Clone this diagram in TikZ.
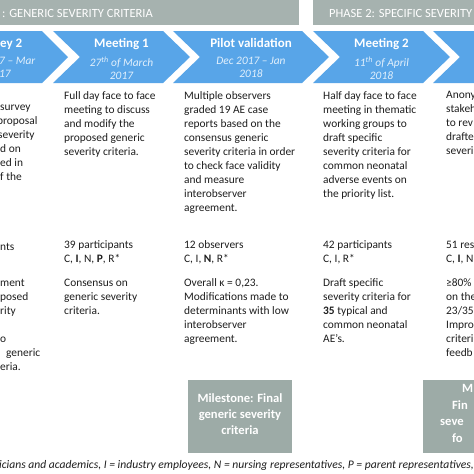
\documentclass[tikz,border=0pt]{standalone}
\usepackage{fontspec}
\setmainfont{Carlito}
\usetikzlibrary{positioning}
\usepackage{xcolor}
\definecolor{chevblue}{RGB}{88,165,232}
\definecolor{phasegray}{RGB}{166,178,175}
\definecolor{milegray}{RGB}{157,171,167}
\definecolor{bodyink}{RGB}{30,30,30}
\definecolor{dateink}{RGB}{226,240,252}

\begin{document}
\begin{tikzpicture}[x=1pt,y=-1pt,
	chev/.style={fill=chevblue},
	phase/.style={fill=phasegray},
	milebox/.style={fill=milegray},
	phasetext/.style={anchor=base west,inner sep=0,text=white,font=\fontsize{12.5}{15}\selectfont},
	title/.style={anchor=base,inner sep=0,text=white,font=\bfseries\fontsize{13}{15}\selectfont},
	datum/.style={anchor=north,yshift=8.82pt,inner sep=0,align=center,text=dateink,font=\itshape\fontsize{11.4}{12.6}\selectfont,execute at begin node=\strut},
	body/.style={anchor=north west,yshift=9.8pt,inner sep=0,align=left,text=bodyink,font=\fontsize{11.4}{14}\selectfont,execute at begin node=\strut},
	miletext/.style={anchor=north,yshift=11.48pt,inner sep=0,align=center,text=white,font=\bfseries\fontsize{12.6}{16.4}\selectfont,execute at begin node=\strut}]
	\useasboundingbox (0,0) rectangle (474,474);
	\fill[white] (0,0) rectangle (474,474);
	\clip (0,0) rectangle (474,474);

	% phase banners
	\fill[phase] (-10,-2) rectangle (299,25);
	\fill[phase] (313,-2) rectangle (490,25);
	\node[phasetext] (phaseA) at (2,17.5) {: GENERIC SEVERITY CRITERIA};
	\node[phasetext] (phaseB) at (329,17.5) {PHASE 2: SPECIFIC SEVERITY};

	% chevrons
	\fill[chev] (-100,31) -- (42,31) -- (68,57) -- (42,83) -- (-100,83) -- cycle;
	\fill[chev] (53,31) -- (163,31) -- (190,57) -- (163,83) -- (53,83) -- (80,57) -- cycle;
	\fill[chev] (173,31) -- (302,31) -- (329,57) -- (302,83) -- (173,83) -- (200,57) -- cycle;
	\fill[chev] (313,31) -- (423,31) -- (450,57) -- (423,83) -- (313,83) -- (340,57) -- cycle;
	\fill[chev] (433,31) -- (560,31) -- (587,57) -- (560,83) -- (433,83) -- (460,57) -- cycle;

	% chevron titles and dates
	\node[title,anchor=base west] (titleA) at (0,47) {ey 2};
	\node[datum,anchor=north west,align=left] (dateA) at (-1,66) {7 -- Mar\\17};
	\node[title] (titleB) at (121.5,47) {Meeting 1};
	\node[datum] (dateB) at (121.5,66) {27\textsuperscript{th} of March\\2017};
	\node[title] (titleC) at (251,47) {Pilot validation};
	\node[datum] (dateC) at (251,66) {Dec 2017 -- Jan\\2018};
	\node[title] (titleD) at (381.5,47) {Meeting 2};
	\node[datum] (dateD) at (381.5,66) {11\textsuperscript{th} of April\\2018};

	% what was done
	\node[body] (doA) at (0,115) {survey\\\hspace{-3pt}proposal\\\hspace{-2pt}severity\\d on\\ed in\\f the};
	\node[body] (doB) at (64,101) {Full day face to face\\meeting to discuss\\and modify the\\proposed generic\\severity criteria.};
	\node[body] (doC) at (184,101) {Multiple observers\\graded 19 AE case\\reports based on the\\consensus generic\\severity criteria in order\\to check face validity\\and measure\\interobserver\\agreement.};
	\node[body] (doD) at (323,101) {Half day face to face\\meeting in thematic\\working groups to\\draft specific\\severity criteria for\\common neonatal\\adverse events on\\the priority list.};
	\node[body] (doE) at (446,101) {Anony\\stakeh\\to rev\\drafte\\severi};

	% who took part
	\node[body] (whoA) at (0,250.5) {nts};
	\node[body] (whoB) at (64,250.5) {39 participants\\C, \textbf{I}, N, \textbf{P}, R*};
	\node[body] (whoC) at (184,250.5) {12 observers\\C, I, \textbf{N}, R*};
	\node[body] (whoD) at (323,250.5) {42 participants\\C, I, R*};
	\node[body] (whoE) at (446,250.5) {51 res\\C, \textbf{I}, N};

	% outcome
	\node[body] (outA) at (0,288.5) {ment\\posed\\rity\\\mbox{}\\o\\\hspace{6pt}generic\\eria.};
	\node[body] (outB) at (64,288.5) {Consensus on\\generic severity\\criteria.};
	\node[body] (outC) at (184,288.5) {Overall κ = 0,23.\\Modifications made to\\determinants with low\\interobserver\\agreement.};
	\node[body] (outD) at (323,288.5) {Draft specific\\severity criteria for\\\textbf{35} typical and\\common neonatal\\AE’s.};
	\node[body] (outE) at (446,288.5) {≥80\%\\on the\\23/35\\Impro\\criteri\\feedb};

	% milestones
	\fill[milebox] (188,380) rectangle (292,453);
	\node[miletext] (mileA) at (240,404.5) {Milestone: Final\\generic severity\\criteria};
	\fill[milebox] (423,380) rectangle (540,453);
	\node[miletext,anchor=north west,align=left] (mileB) at (452,396) {\hspace{10pt}M\\Fin\\\hspace{-12pt}seve\\fo};

	% footnote
	\node[anchor=base west,inner sep=0,text=bodyink,font=\itshape\fontsize{11.6}{13}\selectfont] (legend) at (-1,468) {icians and academics, I = industry employees, N = nursing representatives, P = parent representatives,};
\end{tikzpicture}
\end{document}
